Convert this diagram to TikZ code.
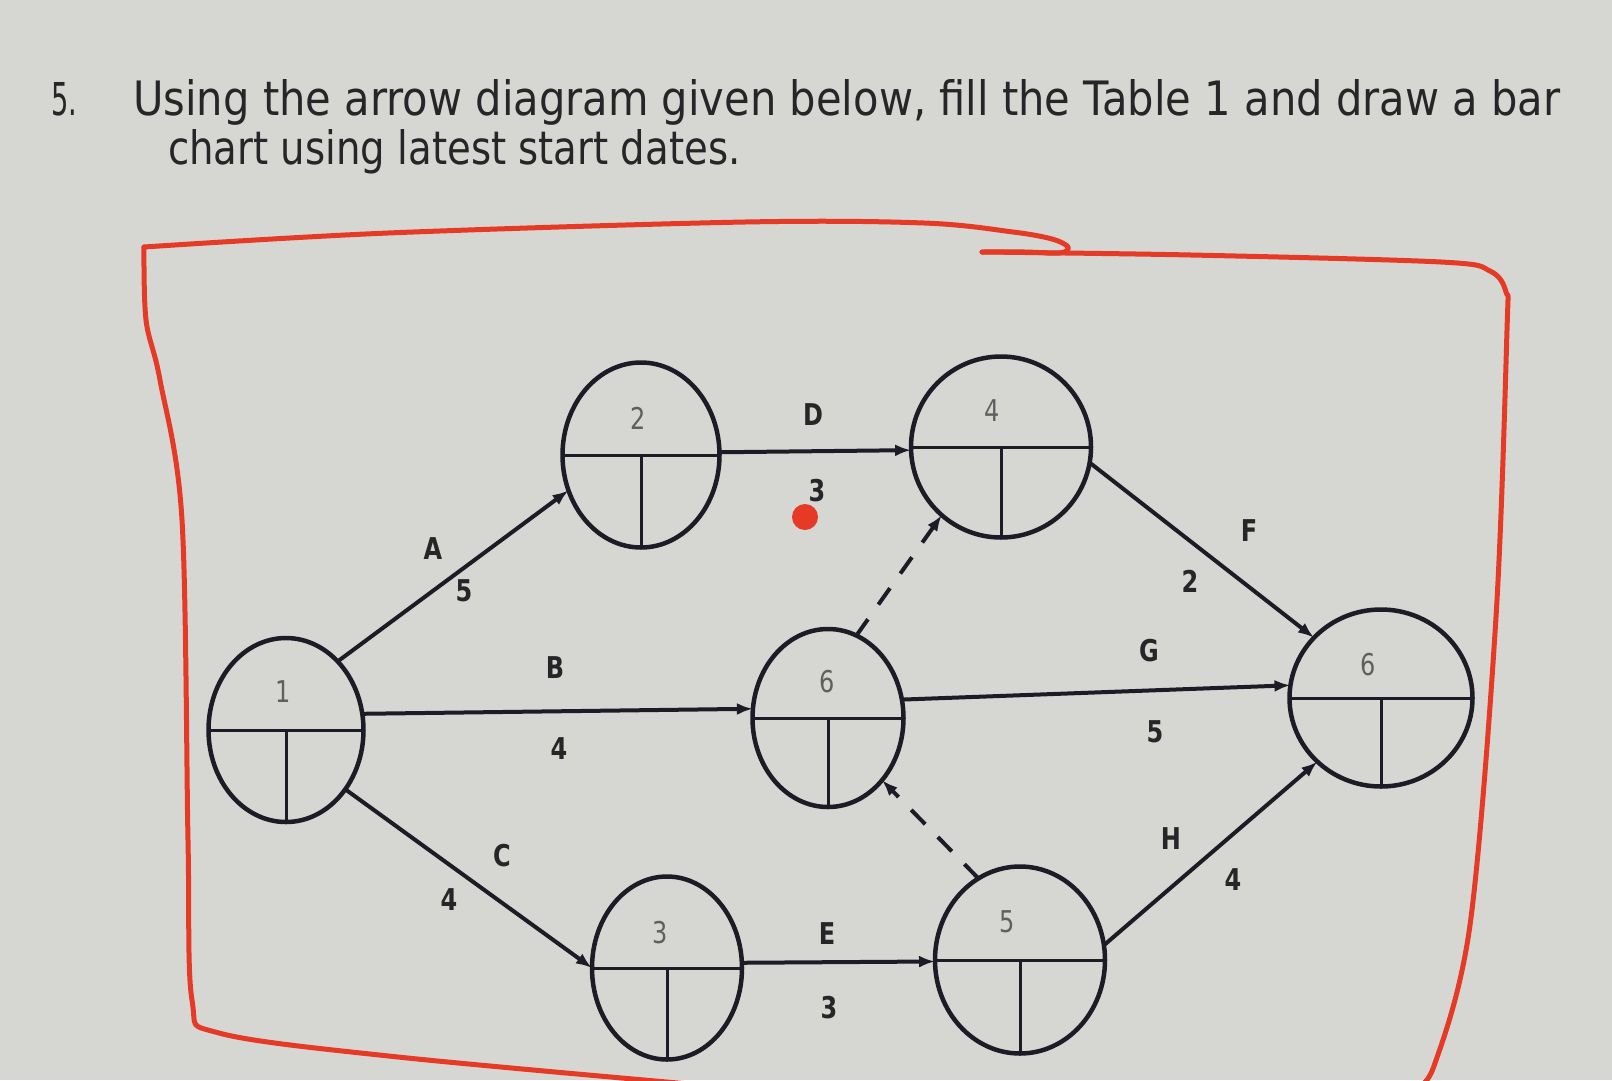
\documentclass[tikz,border=0pt]{standalone}
\usepackage{fontspec}
\setmainfont{DejaVu Sans}
\usepackage{graphicx}
\usetikzlibrary{shapes.geometric,arrows.meta}
\definecolor{bgc}{RGB}{214,214,210}
\definecolor{ink}{RGB}{28,28,38}
\definecolor{txt}{RGB}{38,38,40}
\definecolor{numc}{RGB}{95,95,95}
\definecolor{redc}{RGB}{228,58,38}
\newcommand{\cond}[1]{\scalebox{0.8}[1]{#1}}
\tikzset{
  event/.style={ellipse, draw=ink, line width=4.5pt, inner sep=0pt, outer sep=0pt},
  divline/.style={draw=ink, line width=3pt},
  act/.style={draw=ink, line width=4pt, -{Latex[length=16pt,width=12pt]}},
  dummy/.style={act, dash pattern=on 20pt off 18pt},
  evnum/.style={font=\fontsize{30}{30}\selectfont, text=numc, inner sep=0pt},
  elab/.style={font=\fontsize{30}{30}\selectfont\bfseries, text=txt, inner sep=0pt},
  titletext/.style={anchor=base west, inner sep=0pt, text=txt},
  redframe/.style={draw=redc, line width=5pt, line cap=round, line join=round},
}
\begin{document}
\begin{tikzpicture}[x=1pt,y=-1pt]
\fill[bgc] (0,0) rectangle (1612,1080);
\useasboundingbox (0,0) rectangle (1612,1080);

% title
\node[titletext] (qnum) at (51,115) {\resizebox{26pt}{33pt}{5.}};
\node[titletext] (tline1) at (133,115) {\resizebox{1427pt}{36pt}{Using the arrow diagram given below, fill the Table 1 and draw a bar}};
\node[titletext] (tline2) at (168,164) {\resizebox{572pt}{35pt}{chart using latest start dates.}};

% red hand-drawn frame
\draw[redframe] plot[smooth, tension=0.55] coordinates {(712,1086) (398,1057) (219,1033) (192,1000) (188,840) (182,520) (160,380) (146,320) (144,247)};
\draw[redframe] plot[smooth, tension=0.55] coordinates {(144,247) (388,233) (745,222) (924,223) (1013,232) (1052,239) (1068,247) (1060,253) (1025,252) (982,252)};
\draw[redframe] plot[smooth, tension=0.55] coordinates {(982,252) (1191,255) (1441,262) (1490,271) (1506,292) (1507,330) (1496,617) (1470,925) (1434,1066) (1414,1086)};

% events
\node[event, minimum width=155pt, minimum height=184pt] (n1) at (286,730) {};
\node[event, minimum width=157pt, minimum height=185pt] (n2) at (641,455) {};
\node[event, minimum width=180pt, minimum height=181pt] (n4) at (1001,447) {};
\node[event, minimum width=151pt, minimum height=178pt] (n6m) at (828,718) {};
\node[event, minimum width=183pt, minimum height=177pt] (n6r) at (1381,698) {};
\node[event, minimum width=150pt, minimum height=183pt] (n3) at (667,968) {};
\node[event, minimum width=170pt, minimum height=187pt] (n5) at (1020,960) {};

\foreach \n in {n1,n2,n4,n6m,n6r,n3,n5}{
  \draw[divline] (\n.west) -- (\n.east);
  \draw[divline] (\n.center) -- (\n.south);
}

% event numbers
\node[evnum] (e1) at (283,692) {\cond{1}};
\node[evnum] (e2) at (638,418) {\cond{2}};
\node[evnum] (e4) at (992,411) {\cond{4}};
\node[evnum] (e6m) at (827,682) {\cond{6}};
\node[evnum] (e6r) at (1368,665) {\cond{6}};
\node[evnum] (e3) at (660,933) {\cond{3}};
\node[evnum] (e5) at (1007,922) {\cond{5}};

% activities
\draw[act] (n1.53) -- (n2.206);
\draw[act] (n1.12) -- (n6m.173);
\draw[act] (n1.-45) -- (n3.180);
\draw[act] (n2.2) -- (n4.182);
\draw[act] (n3.4) -- (n5.181);
\draw[act] (n4.-10) -- (n6r.138);
\draw[act] (n6m.14) -- (n6r.172);
\draw[act] (n5.10) -- (n6r.225);
\draw[dummy] (n6m.71) -- (n4.229);
\draw[dummy] (n5.117) -- (n6m.311);

% activity labels
\node[elab] (lA) at (433,549) {\cond{A}};
\node[elab] (dA) at (464,591) {\cond{5}};
\node[elab] (lB) at (555,668) {\cond{B}};
\node[elab] (dB) at (559,749) {\cond{4}};
\node[elab] (lC) at (502,856) {\cond{C}};
\node[elab] (dC) at (449,900) {\cond{4}};
\node[elab] (lD) at (813,415) {\cond{D}};
\node[elab] (dD) at (817,491) {\cond{3}};
\node[elab] (lE) at (827,934) {\cond{E}};
\node[elab] (dE) at (829,1008) {\cond{3}};
\node[elab] (lF) at (1249,531) {\cond{F}};
\node[elab] (dF) at (1190,581) {\cond{2}};
\node[elab] (lG) at (1149,651) {\cond{G}};
\node[elab] (dG) at (1155,732) {\cond{5}};
\node[elab] (lH) at (1171,839) {\cond{H}};
\node[elab] (dH) at (1233,880) {\cond{4}};

% red dot
\fill[redc] (805,517) circle (13pt);
\end{tikzpicture}
\end{document}
